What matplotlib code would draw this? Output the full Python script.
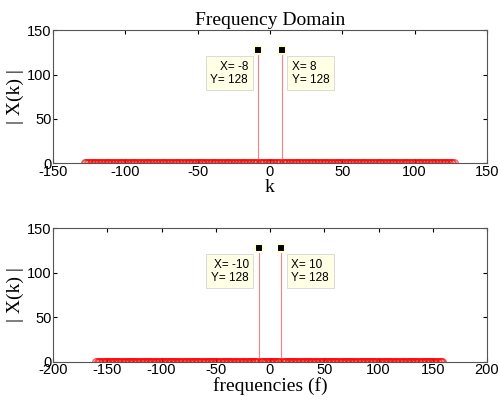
import numpy as np
import matplotlib.pyplot as plt

N = 256
fs = 320
k = np.arange(-128, 128)
X = np.zeros(N)
X[k == -8] = 128
X[k == 8] = 128
freqs = k * fs / N

fig = plt.figure(figsize=(5, 4.08), dpi=100)
serif = "Liberation Serif"
plt.rcParams['font.family'] = "Liberation Sans"
plt.rcParams['axes.unicode_minus'] = False

def panel(rect, x, xlim, xlabel, title=None):
    ax = fig.add_axes(rect)
    ml, sl, bl = ax.stem(x, X, basefmt="k-")
    plt.setp(ml, color="red", markerfacecolor="none", markersize=5.5, markeredgewidth=1.0, alpha=0.6)
    plt.setp(sl, color="red", linewidth=0.8, alpha=0.5)
    plt.setp(bl, linewidth=0.5)
    ax.set_xlim(xlim)
    ax.set_ylim(0, 150)
    ax.set_yticks([0, 50, 100, 150])
    ax.tick_params(labelsize=10.5, direction="in", length=3, top=True, right=True, pad=1)
    for s in ax.spines.values():
        s.set_color("#555555")
    ax.set_xlabel(xlabel, family=serif, fontsize=14, labelpad=0)
    ax.set_ylabel("| X(k) |", family=serif, fontsize=14, labelpad=2)
    if title:
        ax.set_title(title, family=serif, fontsize=14, pad=4)
    for xv in x[X > 0]:
        ax.plot([xv], [128], "s", color="black", markersize=6,
                markeredgecolor="#ffffdd", markeredgewidth=1.5)
        dx = -3 if xv < 0 else 3
        ax.annotate("X= %g\nY= 128" % xv, (xv, 128), xytext=(dx * 2.5, -8),
                    textcoords="offset points", ha="right" if xv < 0 else "left",
                    va="top", fontsize=8.5, linespacing=1.1,
                    bbox=dict(boxstyle="square,pad=0.4", fc="#ffffe6", ec="#cccccc", lw=0.5))
    return ax

panel([0.106, 0.600, 0.868, 0.326], k, (-150, 150), "k", "Frequency Domain")
panel([0.106, 0.113, 0.868, 0.328], freqs, (-200, 200), "frequencies (f)")

fig.savefig("out.png", dpi=100)
